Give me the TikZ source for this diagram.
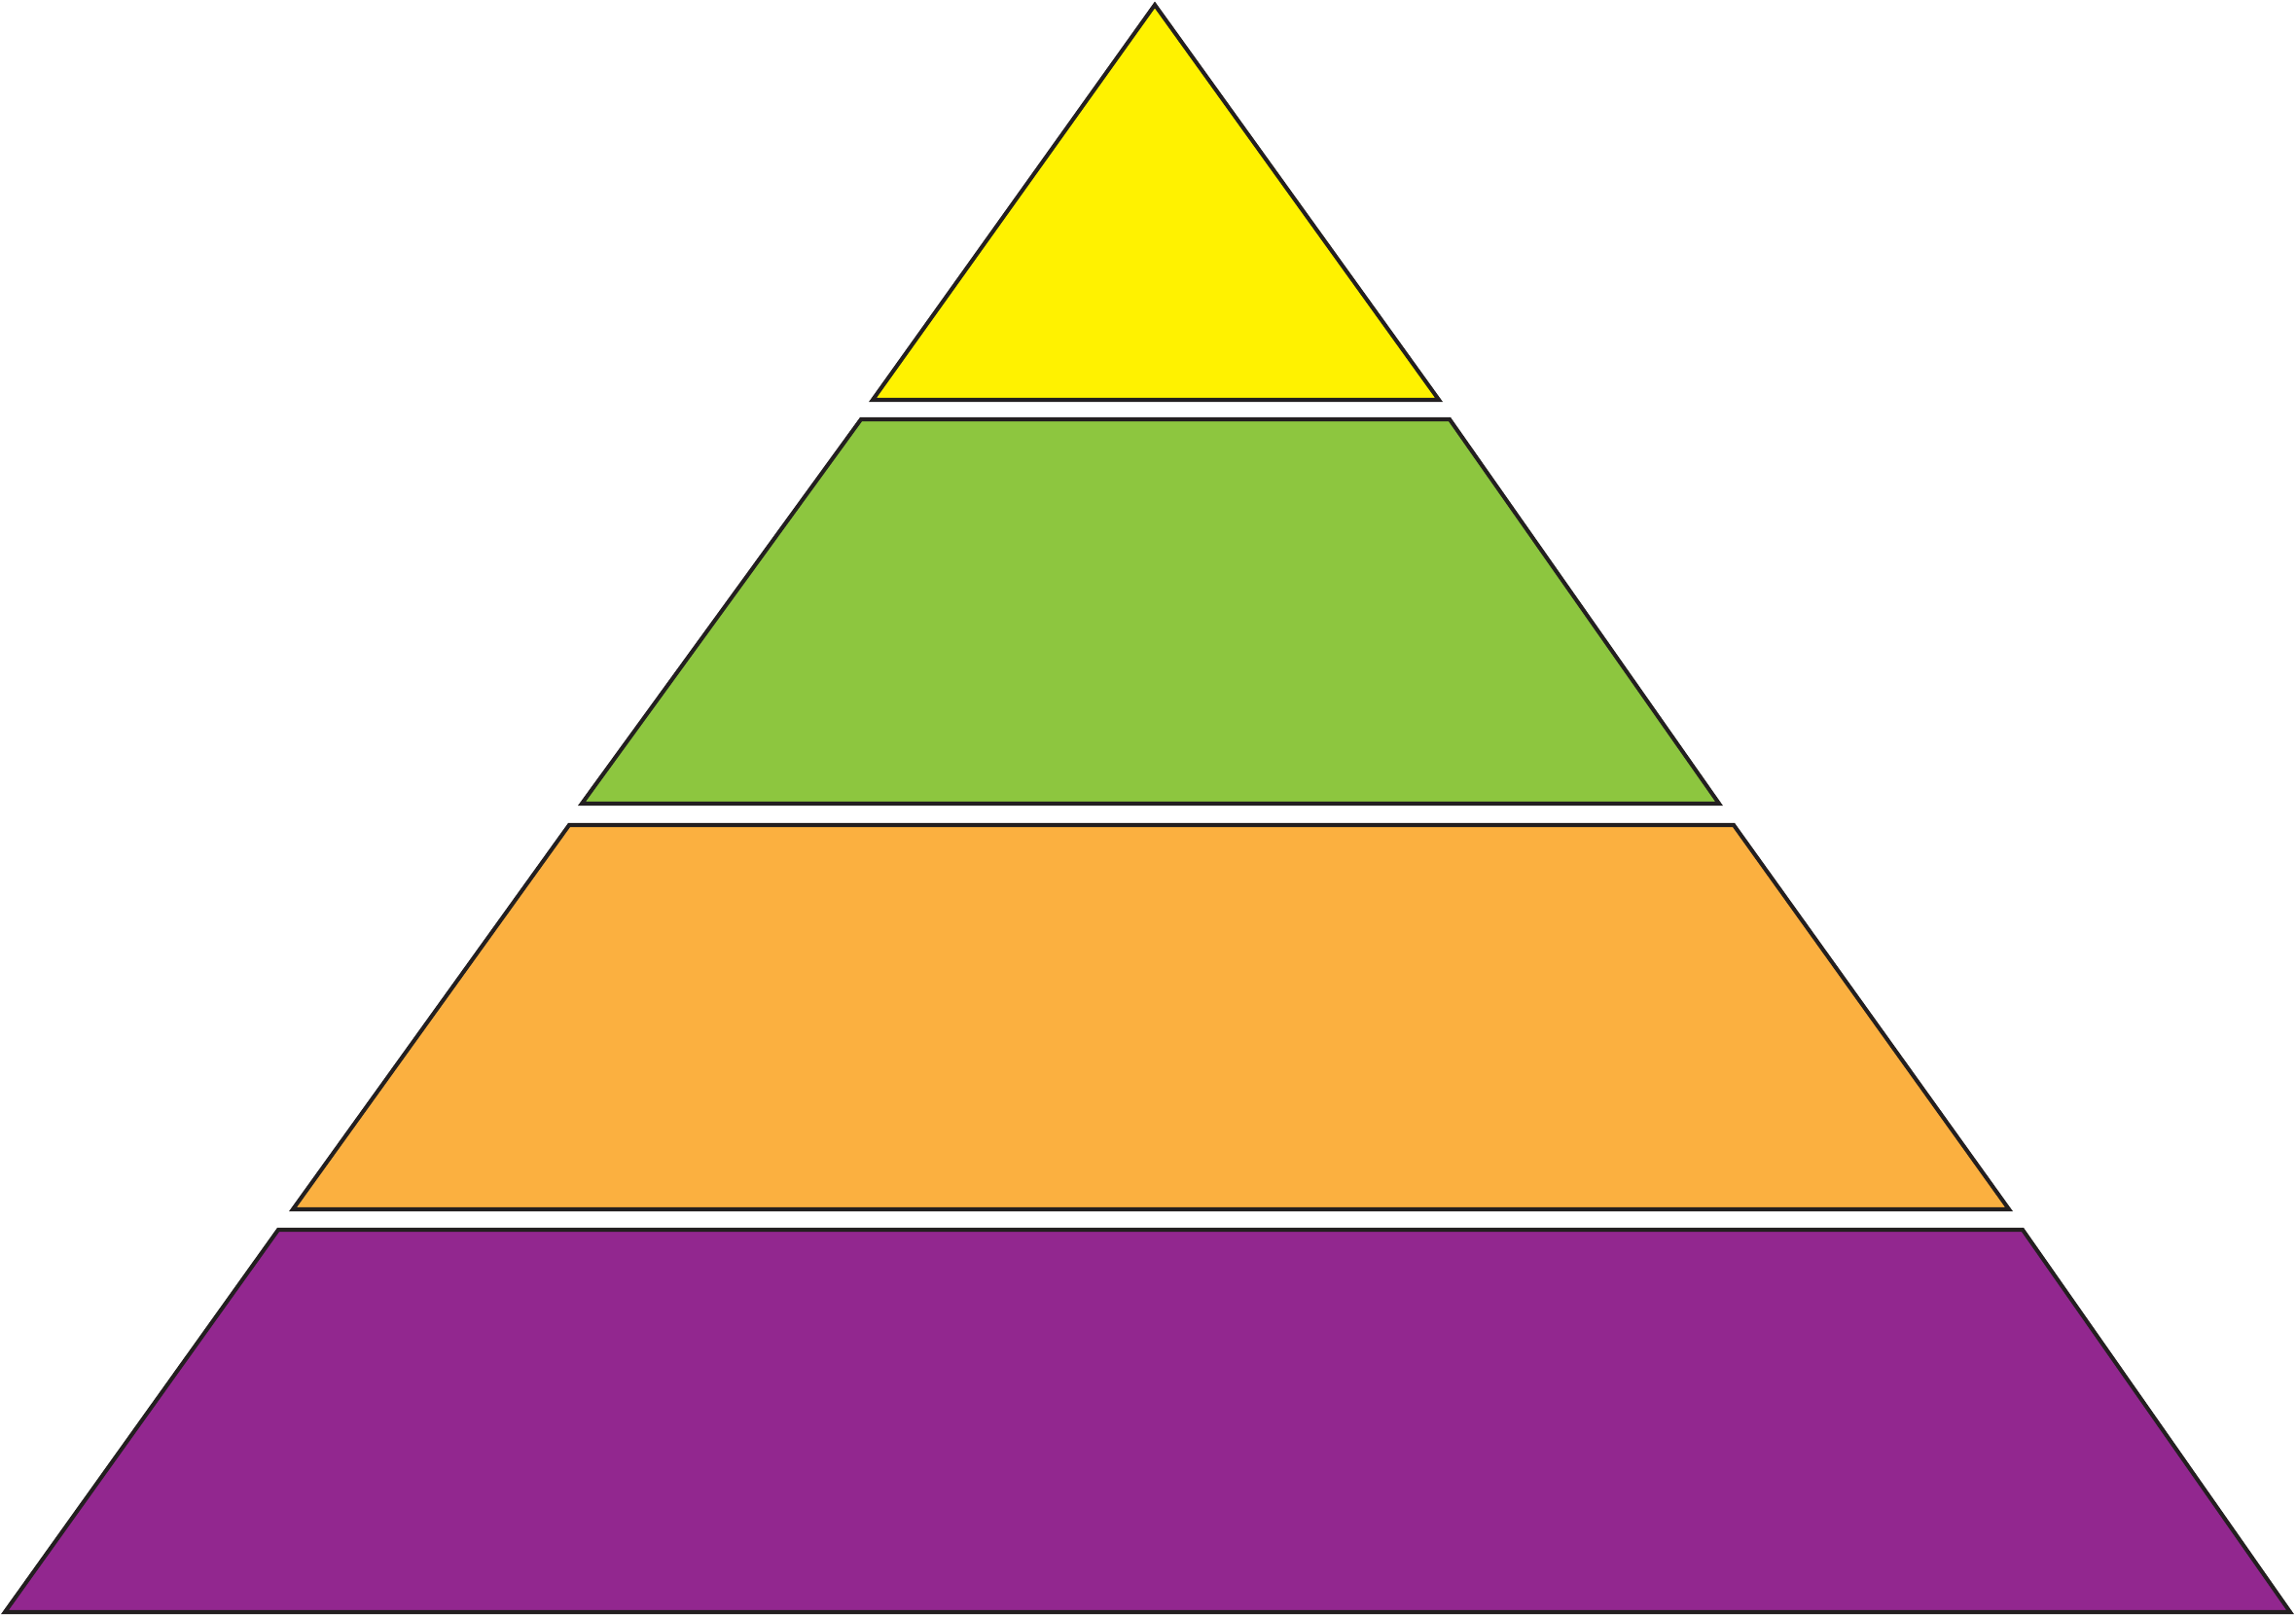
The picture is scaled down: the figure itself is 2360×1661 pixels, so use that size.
\documentclass[tikz,border=0pt]{standalone}
\begin{document}
\begin{tikzpicture}[x=0.01cm,y=-0.01cm,
  tier/.style={draw=outline,line width=1.15pt,line join=miter}]
\definecolor{outline}{HTML}{231F20}
\definecolor{cyellow}{HTML}{FFF200}
\definecolor{cgreen}{HTML}{8DC63F}
\definecolor{corange}{HTML}{FBB040}
\definecolor{cpurple}{HTML}{92278F}
\useasboundingbox (0,0) rectangle (2360,1661);
\filldraw[tier,fill=cyellow] (1187,5) -- (1479,411) -- (897,411) -- cycle;
\filldraw[tier,fill=cgreen] (885,431) -- (1490,431) -- (1767,826) -- (598,826) -- cycle;
\filldraw[tier,fill=corange] (585,848) -- (1782,848) -- (2065,1243) -- (301,1243) -- cycle;
\filldraw[tier,fill=cpurple] (286,1264) -- (2079,1264) -- (2354,1657) -- (5,1657) -- cycle;
\end{tikzpicture}
\end{document}
